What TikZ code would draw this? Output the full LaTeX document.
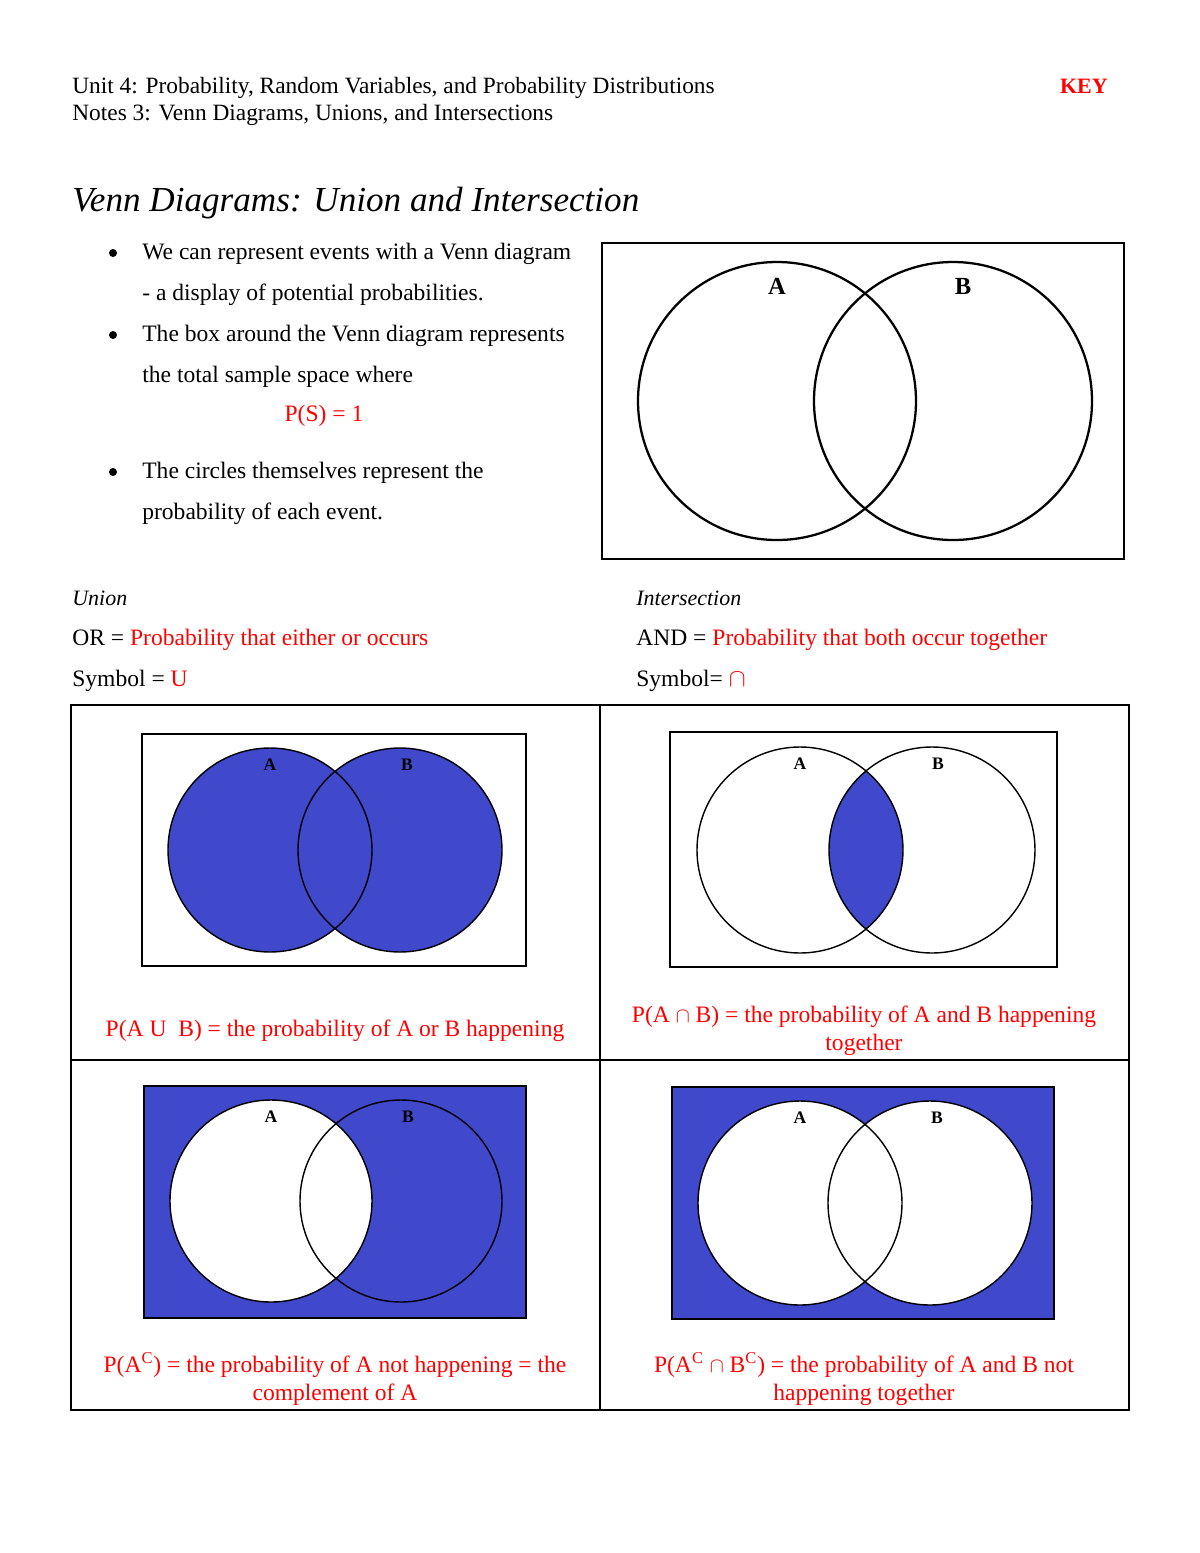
\documentclass[tikz,border=0pt]{standalone}
\usepackage{fontspec}
\setmainfont{Liberation Serif}
\usepackage{tikz}
\usetikzlibrary{positioning}
\definecolor{VennBlue}{RGB}{64, 72, 204}
\definecolor{KeyRed}{RGB}{255, 0, 0}

\begin{document}
\begin{tikzpicture}[x=0.02cm, y=-0.02cm,
    body/.style={inner sep=0, anchor=base west, font=\fontsize{13.4}{15}\selectfont},
    capline/.style={inner sep=0, align=center, anchor=base, text=KeyRed, font=\fontsize{13.4}{15.4}\selectfont},
    biglbl/.style={inner sep=0, font=\fontsize{14}{14}\selectfont\bfseries},
    lbl/.style={inner sep=0, font=\fontsize{10}{10}\selectfont\bfseries},
    venn/.style={line width=0.8pt},
    frame/.style={line width=1pt}]
    \useasboundingbox (0,0) rectangle (1200,1553);
    \fill[white] (0,0) rectangle (1200,1553);

    % header
    \node[body, font=\fontsize{13.3}{15}\selectfont] (unit) at (72,93) {Unit 4: Probability, Random Variables, and Probability Distributions};
    \node[body, font=\fontsize{13.3}{15}\selectfont] (notes) at (72,120) {Notes 3: Venn Diagrams, Unions, and Intersections};
    \node[body, anchor=base east, text=KeyRed, font=\fontsize{12.5}{14}\selectfont\bfseries] (key) at (1108,93) {KEY};
    \node[body, font=\fontsize{20}{24}\selectfont\itshape] (title) at (72,211) {Venn Diagrams: Union and Intersection};

    % bullets
    \foreach \yy in {253,335,472} {
        \fill (113,\yy) circle (4);
    }
    \node[body] (b1a) at (142,259) {We can represent events with a Venn diagram};
    \node[body] (b1b) at (142,300) {- a display of potential probabilities.};
    \node[body] (b2a) at (142,341) {The box around the Venn diagram represents};
    \node[body] (b2b) at (142,382) {the total sample space where};
    \node[body, anchor=base, text=KeyRed] (ps) at (324,421) {P(S) = 1};
    \node[body] (b3a) at (142,478) {The circles themselves represent the};
    \node[body] (b3b) at (142,519) {probability of each event.};

    % main venn diagram
    \draw[frame] (602,243) rectangle (1124,559);
    \draw[line width=1.3pt] (777,401) circle (139);
    \draw[line width=1.3pt] (953,401) circle (139);
    \node[biglbl] (mainA) at (777,286) {A};
    \node[biglbl] (mainB) at (963,286) {B};

    % union / intersection
    \node[body, font=\fontsize{12.5}{14}\selectfont\itshape] (union) at (72,605) {Union};
    \node[body] (ordef) at (72,645) {OR = \textcolor{KeyRed}{Probability that either or occurs}};
    \node[body] (orsym) at (72,686) {Symbol = \textcolor{KeyRed}{U}};
    \node[body, font=\fontsize{12.5}{14}\selectfont\itshape] (inter) at (636,605) {Intersection};
    \node[body] (anddef) at (636,645) {AND = \textcolor{KeyRed}{Probability that both occur together}};
    \node[body] (andsym) at (636,686) {Symbol= \textcolor{KeyRed}{\Large$\cap$}};

    % table
    \draw[frame] (71,705) rectangle (1129,1410);
    \draw[frame] (600,705) -- (600,1410);
    \draw[frame] (71,1060) -- (1129,1060);

    % panel 1: union
    \draw[frame] (142,734) rectangle (526,966);
    \fill[VennBlue] (270,850) circle (102) (400,850) circle (102);
    \draw[venn] (270,850) circle (102) (400,850) circle (102);
    \node[lbl] (p1A) at (270,765) {A};
    \node[lbl] (p1B) at (407,765) {B};
    \node[capline] (p1cap) at (335,1036) {P(A U\ \ B) = the probability of A or B happening};

    % panel 2: intersection
    \draw[frame] (670,732) rectangle (1057,967);
    \begin{scope}
        \clip (800,850) circle (103);
        \fill[VennBlue] (932,850) circle (103);
    \end{scope}
    \draw[venn] (800,850) circle (103) (932,850) circle (103);
    \node[lbl] (p2A) at (800,764) {A};
    \node[lbl] (p2B) at (938,764) {B};
    \node[capline] (p2cap) at (864,1050) {P(A {\large$\cap$} B) = the probability of A and B happening\\together};

    % panel 3: complement of A
    \fill[VennBlue] (144,1086) rectangle (526,1318);
    \draw[frame] (144,1086) rectangle (526,1318);
    \fill[white] (271,1201) circle (101);
    \draw[venn] (271,1201) circle (101) (401,1201) circle (101);
    \node[lbl] (p3A) at (271,1117) {A};
    \node[lbl] (p3B) at (408,1117) {B};
    \node[capline] (p3cap) at (335,1400) {P(A\textsuperscript{C}) = the probability of A not happening = the\\complement of A};

    % panel 4: neither
    \fill[VennBlue] (672,1087) rectangle (1054,1319);
    \draw[frame] (672,1087) rectangle (1054,1319);
    \fill[white] (800,1203) circle (102) (930,1203) circle (102);
    \draw[venn] (800,1203) circle (102) (930,1203) circle (102);
    \node[lbl] (p4A) at (800,1118) {A};
    \node[lbl] (p4B) at (937,1118) {B};
    \node[capline] (p4cap) at (864,1400) {P(A\textsuperscript{C} {\large$\cap$} B\textsuperscript{C}) = the probability of A and B not\\happening together};
  \end{tikzpicture}
\end{document}
